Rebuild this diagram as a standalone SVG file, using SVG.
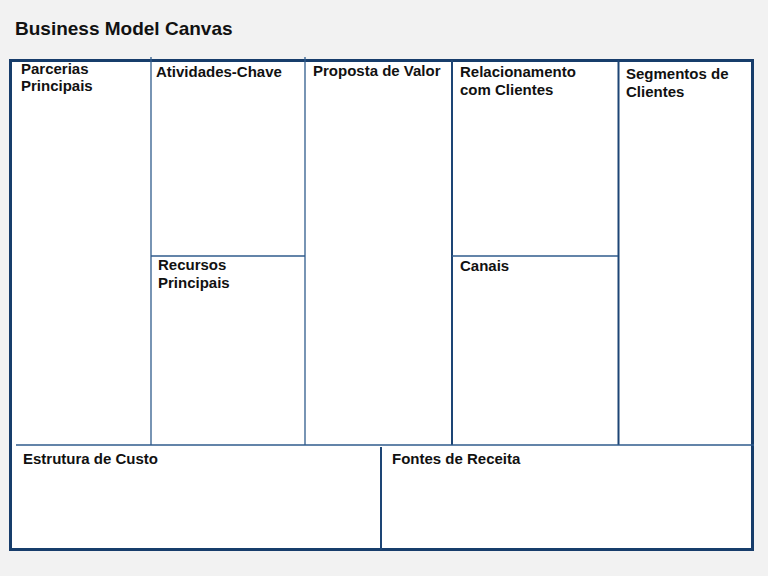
<svg xmlns="http://www.w3.org/2000/svg" width="768" height="576" viewBox="0 0 768 576">
<style>
.lbl{font-family:"Liberation Sans",Arial,sans-serif;font-weight:bold;font-size:15px;fill:#111}
.title{font-family:"Liberation Sans",Arial,sans-serif;font-weight:bold;font-size:19px;fill:#111}
.in{stroke:#2f5b8c;stroke-width:1.3;fill:none}
.in2{stroke:#1d4575;stroke-width:2;fill:none}
</style>
<rect width="768" height="576" fill="#f2f2f2"/>
<text class="title" x="15" y="35">Business Model Canvas</text>
<rect x="10.5" y="60.5" width="742" height="489" fill="#fff" stroke="#173d6b" stroke-width="3"/>
<g id="connectors">
<line class="in" x1="151" y1="57" x2="151" y2="445"/>
<line class="in" x1="305" y1="57" x2="305" y2="445"/>
<line class="in2" x1="452" y1="60" x2="452" y2="445"/>
<line class="in2" x1="618.5" y1="60" x2="618.5" y2="445"/>
<line class="in" x1="151" y1="256" x2="305" y2="256"/>
<line class="in" x1="452" y1="256" x2="618" y2="256"/>
<line class="in" x1="16" y1="445" x2="754" y2="445"/>
<line class="in2" x1="381" y1="447" x2="381" y2="550"/>
</g>
<g id="parcerias"><text class="lbl" x="21" y="74">Parcerias</text><text class="lbl" x="21" y="91">Principais</text></g>
<g id="atividades"><text class="lbl" x="156" y="77">Atividades-Chave</text></g>
<g id="recursos"><text class="lbl" x="158" y="270">Recursos</text><text class="lbl" x="158" y="288">Principais</text></g>
<g id="proposta"><text class="lbl" x="313" y="76">Proposta de Valor</text></g>
<g id="relacionamento"><text class="lbl" x="460" y="77">Relacionamento</text><text class="lbl" x="460" y="95">com Clientes</text></g>
<g id="canais"><text class="lbl" x="460" y="271">Canais</text></g>
<g id="segmentos"><text class="lbl" x="626" y="79">Segmentos de</text><text class="lbl" x="626" y="97">Clientes</text></g>
<g id="custo"><text class="lbl" x="23" y="464">Estrutura de Custo</text></g>
<g id="receita"><text class="lbl" x="392" y="464">Fontes de Receita</text></g>
</svg>
